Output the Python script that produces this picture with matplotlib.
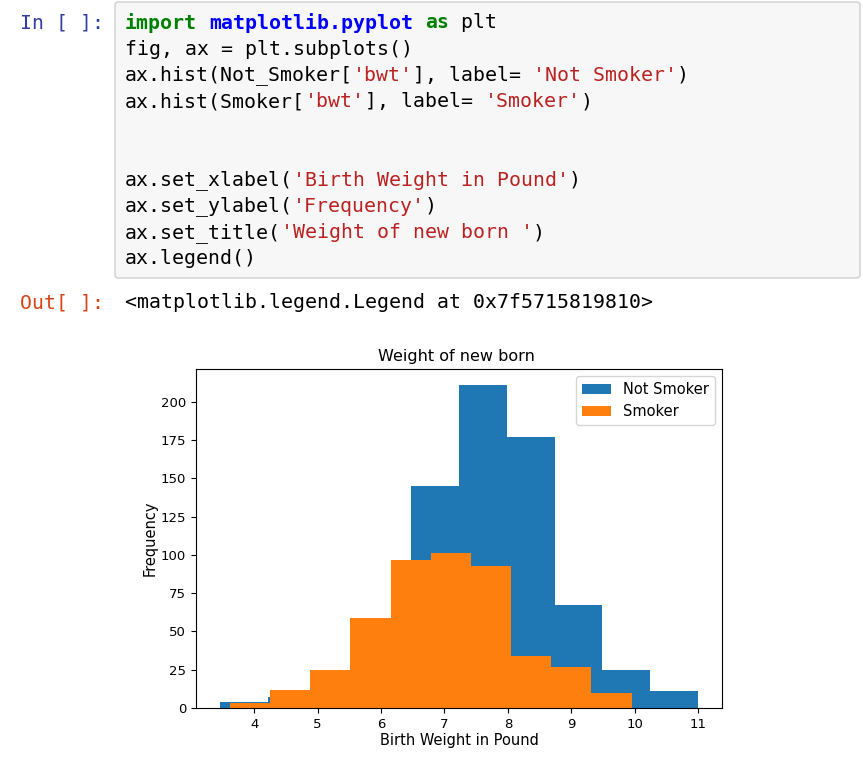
import numpy as np
import matplotlib.pyplot as plt
from matplotlib.patches import FancyBboxPatch

# bin counts
ns_counts = [4, 7, 18, 45, 145, 211, 177, 67, 25, 11]
ns_range = (3.46, 11.0)
sm_counts = [3, 12, 25, 59, 97, 101, 93, 34, 27, 10]
sm_range = (3.62, 9.95)
xticks = [4, 5, 6, 7, 8, 9, 10, 11]
yticks = [0, 25, 50, 75, 100, 125, 150, 175, 200]

code_lines = [
    [("import", "#008000", "bold"), (" ", "k", "normal"), ("matplotlib.pyplot", "#0000ff", "bold"),
     (" ", "k", "normal"), ("as", "#008000", "bold"), (" plt", "k", "normal")],
    [("fig, ax = plt.subplots()", "k", "normal")],
    [("ax.hist(Not_Smoker[", "k", "normal"), ("'bwt'", "#ba2121", "normal"), ("], label= ", "k", "normal"),
     ("'Not Smoker'", "#ba2121", "normal"), (")", "k", "normal")],
    [("ax.hist(Smoker[", "k", "normal"), ("'bwt'", "#ba2121", "normal"), ("], label= ", "k", "normal"),
     ("'Smoker'", "#ba2121", "normal"), (")", "k", "normal")],
    [],
    [],
    [("ax.set_xlabel(", "k", "normal"), ("'Birth Weight in Pound'", "#ba2121", "normal"), (")", "k", "normal")],
    [("ax.set_ylabel(", "k", "normal"), ("'Frequency'", "#ba2121", "normal"), (")", "k", "normal")],
    [("ax.set_title(", "k", "normal"), ("'Weight of new born '", "#ba2121", "normal"), (")", "k", "normal")],
    [("ax.legend()", "k", "normal")],
]

W, H = 863, 763
fig = plt.figure(figsize=(W / 100, H / 100), dpi=100)

def fx(px):
    return px / W

def fy(py):
    return 1 - py / H

# code cell
box = FancyBboxPatch((fx(115), fy(278)), fx(860) - fx(115), fy(2) - fy(278),
                     boxstyle="round,pad=0,rounding_size=0.004", transform=fig.transFigure,
                     facecolor="#f7f7f7", edgecolor="#cfcfcf", lw=1)
fig.patches.append(box)

fs = 14.3
cw = 12.0
fig.text(fx(20), fy(23), "In [ ]:", color="#303f9f", family="DejaVu Sans Mono", fontsize=fs, va="center")
for i, segs in enumerate(code_lines):
    y = 23 + i * 26.2
    col = 0
    for s, c, w in segs:
        fig.text(fx(125 + col * cw), fy(y), s, color=c, weight=w,
                 family="DejaVu Sans Mono", fontsize=fs, va="center")
        col += len(s)
fig.text(fx(20), fy(303), "Out[ ]:", color="#d84315", family="DejaVu Sans Mono", fontsize=fs, va="center")
fig.text(fx(125), fy(303), "<matplotlib.legend.Legend at 0x7f5715819810>", color="k",
         family="DejaVu Sans Mono", fontsize=fs, va="center")

# histogram
ax = fig.add_axes([fx(196), fy(708), fx(722) - fx(196), fy(369) - fy(708)])
ns_edges = np.linspace(*ns_range, len(ns_counts) + 1)
sm_edges = np.linspace(*sm_range, len(sm_counts) + 1)
ax.hist((ns_edges[:-1] + ns_edges[1:]) / 2, bins=ns_edges, weights=ns_counts, label="Not Smoker")
ax.hist((sm_edges[:-1] + sm_edges[1:]) / 2, bins=sm_edges, weights=sm_counts, label="Smoker")
ax.set_xticks(xticks)
ax.set_yticks(yticks)
ax.tick_params(labelsize=9.5)
ax.set_xlabel("Birth Weight in Pound", fontsize=10.5, labelpad=2)
ax.set_ylabel("Frequency", fontsize=10.5, labelpad=2)
ax.set_title("Weight of new born ", fontsize=11.5, pad=6)
ax.legend(fontsize=10.5)

fig.savefig("out.png", dpi=100)
